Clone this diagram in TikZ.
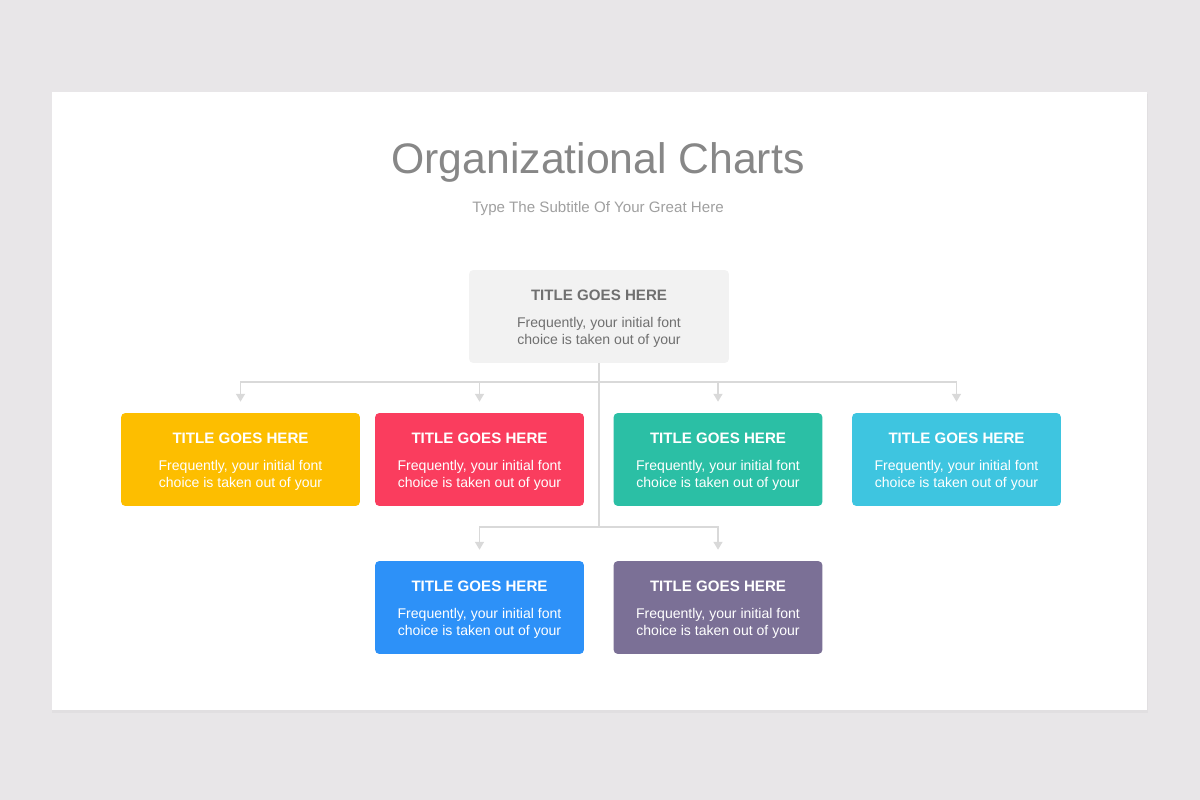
\documentclass[tikz,border=0pt]{standalone}
\usepackage{fontspec}
\setmainfont{Liberation Sans}
\usetikzlibrary{arrows.meta}
\definecolor{pagegray}{HTML}{E8E6E8}
\definecolor{shadegray}{HTML}{E1DFE1}
\definecolor{headgray}{HTML}{878787}
\definecolor{subgray}{HTML}{A0A0A0}
\definecolor{bossfill}{HTML}{F2F2F2}
\definecolor{bosstext}{HTML}{707070}
\definecolor{wiregray}{HTML}{D9D9D9}
\definecolor{cardyellow}{HTML}{FDBE00}
\definecolor{cardred}{HTML}{FA3D5E}
\definecolor{cardteal}{HTML}{2BBFA5}
\definecolor{cardcyan}{HTML}{3EC5E0}
\definecolor{cardblue}{HTML}{2D91F8}
\definecolor{cardpurple}{HTML}{7B7096}
\newcommand\cardtext{{\fontsize{8.6}{10}\selectfont\bfseries\rule{0pt}{8.6pt}TITLE GOES HERE}\\[6pt]Frequently, your initial font\\choice is taken out of your}
\begin{document}
\begin{tikzpicture}[x=0.02cm,y=-0.02cm,
	card/.style={rounded corners=2.5pt, minimum width=4.18cm, minimum height=1.86cm, inner sep=0pt, align=center, text=white, font=\fontsize{8}{9.6}\selectfont},
	wire/.style={draw=wiregray, line width=1pt},
	link/.style={wire, -{Triangle[width=5pt,length=4.5pt]}, shorten >=6.2pt}]
	% page and slide
	\fill[pagegray] (0,0) rectangle (1200,800);
	\fill[shadegray] (52,94) rectangle (1148,713);
	\fill[white] (52,92) rectangle (1147,710);
	% headings
	\node[font=\fontsize{24.3}{28}\selectfont, text=headgray] (heading) at (598,162) {Organizational Charts};
	\node[font=\fontsize{8.6}{10}\selectfont, text=subgray] (subheading) at (598,209) {Type The Subtitle Of Your Great Here};
	% top card
	\node[card, fill=bossfill, text=bosstext, minimum width=5.2cm] (boss) at (599,316.5) {\cardtext};
	% first row
	\node[card, fill=cardyellow, minimum width=4.78cm] (yellow) at (240.5,459.5) {\cardtext};
	\node[card, fill=cardred] (red) at (479.5,459.5) {\cardtext};
	\node[card, fill=cardteal] (teal) at (718,459.5) {\cardtext};
	\node[card, fill=cardcyan] (cyan) at (956.5,459.5) {\cardtext};
	% second row
	\node[card, fill=cardblue] (blue) at (479.5,607.5) {\cardtext};
	\node[card, fill=cardpurple] (purple) at (718,607.5) {\cardtext};
	% connectors
	\coordinate (bus1) at (599,382);
	\coordinate (bus2) at (599,527);
	\draw[wire] (boss.south) -- (bus2);
	\foreach \n in {yellow,red,teal,cyan}
		\draw[link] (bus1) -| (\n.north);
	\foreach \n in {blue,purple}
		\draw[link] (bus2) -| (\n.north);
\end{tikzpicture}
\end{document}
